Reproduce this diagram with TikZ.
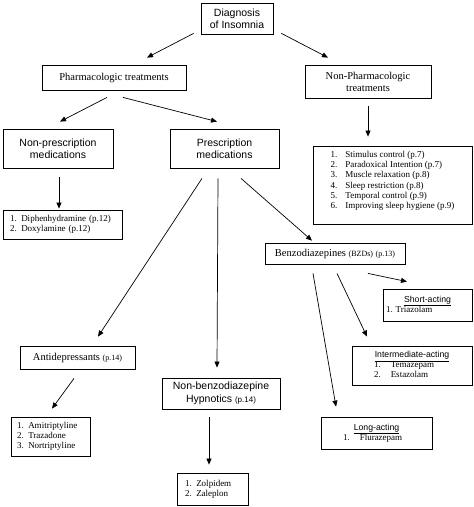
\documentclass[tikz,border=0pt]{standalone}
\usepackage{fontspec}
\setmainfont{Liberation Serif}
\newfontfamily\arialf{Liberation Sans}
\usetikzlibrary{arrows.meta,calc}
\newcommand\smf{\fontsize{8}{10}\selectfont}
\newcommand\lstf{\fontsize{9}{10.3}\selectfont}
\newcommand\hdf{\arialf\fontsize{8.7}{11}\selectfont}
\newcommand\ulx[1]{\leavevmode\vtop{\hbox{#1}\kern1pt\hrule height 0.5pt}}
\tikzset{
  box/.style={draw, line width=0.8pt, inner sep=0pt, anchor=center},
  arr/.style={line width=0.7pt, -{Triangle[length=6pt,width=5pt]}},
  sansl/.style={font=\arialf\fontsize{10.5}{12.5}\selectfont, align=center},
  serl/.style={font=\fontsize{10.5}{12}\selectfont, align=center},
  lst/.style={font=\lstf, align=left},
}
\begin{document}
\begin{tikzpicture}[x=1pt,y=-1pt]
\useasboundingbox (0,0) rectangle (474,507);
\fill[white] (0,0) rectangle (474,507);

\node[box,sansl,minimum width=72pt,minimum height=31pt] (diag) at (237,18.5) {Diagnosis\\of Insomnia};
\node[box,serl,minimum width=144pt,minimum height=25pt] (pharm) at (114,77.5) {Pharmacologic treatments};
\node[box,serl,minimum width=126pt,minimum height=33pt] (nonpharm) at (368,81.5) {Non-Pharmacologic\\treatments};
\node[box,sansl,minimum width=110pt,minimum height=39pt] (nonpresc) at (58,148.5) {Non-prescription\\medications};
\node[box,sansl,minimum width=109pt,minimum height=39pt] (presc) at (224.5,148.5) {Prescription\\medications};
\node[box,lst,minimum width=159pt,minimum height=78pt] (nplist) at (392.5,185)
  {\begin{tabular}{@{}r@{\hspace{8pt}}l@{}}
   1.&Stimulus control (p.7)\\
   2.&Paradoxical Intention (p.7)\\
   3.&Muscle relaxation (p.8)\\
   4.&Sleep restriction (p.8)\\
   5.&Temporal control (p.9)\\
   6.&Improving sleep hygiene (p.9)\\[8pt]
   \end{tabular}};
\node[box,lst,inner xsep=7pt,text width=105pt,minimum height=29pt] (diphen) at (62.5,224.5)
  {1. Diphenhydramine (p.12)\\2. Doxylamine (p.12)};
\node[box,serl,minimum width=140pt,minimum height=21pt] (benz) at (335,253.5)
  {Benzodiazepines {\smf(BZDs)} {\smf(p.13)}};
\node[box,inner sep=0pt,minimum width=89pt,minimum height=32pt] (short) at (427.5,305)
  {\begin{tabular}{@{}l@{}}
   \makebox[89pt][c]{\hdf\ulx{Short-acting}}\\[-2pt]
   \lstf\hspace*{3pt}1. Triazolam
   \end{tabular}};
\node[box,inner sep=0pt,minimum width=120pt,minimum height=39pt] (inter) at (412,365.5)
  {\begin{tabular}{@{}l@{}}
   \makebox[120pt][c]{\hdf\ulx{Intermediate-acting}}\\[-2pt]
   \lstf\hspace*{22pt}1.\hspace{10pt}Temazepam\\[-2pt]
   \lstf\hspace*{22pt}2.\hspace{10pt}Estazolam
   \end{tabular}};
\node[box,inner sep=0pt,minimum width=111pt,minimum height=32pt] (long) at (376.5,433)
  {\begin{tabular}{@{}l@{}}
   \makebox[111pt][c]{\hdf\ulx{Long-acting}}\\[-2pt]
   \lstf\hspace*{22pt}1.\hspace{10pt}Flurazepam
   \end{tabular}};
\node[box,serl,minimum width=115pt,minimum height=23pt] (antidep) at (77.5,357.5)
  {Antidepressants {\smf(p.14)}};
\node[box,sansl,minimum width=118pt,minimum height=31pt] (nonbenzo) at (221,393.5)
  {Non-benzodiazepine\\Hypnotics {\smf(p.14)}};
\node[box,lst,inner xsep=6pt,text width=67pt,minimum height=39pt] (amitrip) at (50.5,436.5)
  {1. Amitriptyline\\2. Trazadone\\3. Nortriptyline};
\node[box,lst,inner xsep=8pt,text width=55pt,minimum height=32pt] (zolp) at (212.5,489)
  {1. Zolpidem\\2. Zaleplon};

\draw[arr] ($(diag.south west)+(-7,-1)$) -- ($(pharm.north)+(33,-7)$);
\draw[arr] ($(diag.south east)+(8,-1)$) -- ($(nonpharm.north)+(-40,-7)$);
\draw[arr] ($(pharm.south)+(-7,7)$) -- ($(nonpresc.north)+(2,-7)$);
\draw[arr] ($(pharm.south)+(9,7)$) -- ($(presc.north)+(-7.5,-7)$);
\draw[arr] ($(nonpharm.south)+(0,8)$) -- ($(nplist.north)+(-24.5,-9)$);
\draw[arr] ($(nonpresc.south)+(1,9)$) -- ($(diphen.north)+(-3.5,-1)$);
\draw[arr] ($(presc.south)+(-22.5,10)$) -- ($(antidep.north)+(20.5,-9)$);
\draw[arr] ($(presc.south)+(-6.5,10)$) -- ($(nonbenzo.north)+(-4,-10)$);
\draw[arr] ($(presc.south)+(16.5,10)$) -- ($(benz.north)+(-23,-2)$);
\draw[arr] ($(benz.south)+(33,9)$) -- ($(short.north)+(-20.5,-7)$);
\draw[arr] ($(benz.south)+(2,9)$) -- ($(inter.north)+(-45,-9)$);
\draw[arr] ($(benz.south)+(-22,9)$) -- ($(long.north)+(-40.5,-10)$);
\draw[arr] ($(antidep.south)+(-3.5,9)$) -- ($(amitrip.north)+(1.5,-8)$);
\draw[arr] ($(nonbenzo.south)+(-12,8)$) -- ($(zolp.north)+(-3.5,-8)$);
\end{tikzpicture}
\end{document}
